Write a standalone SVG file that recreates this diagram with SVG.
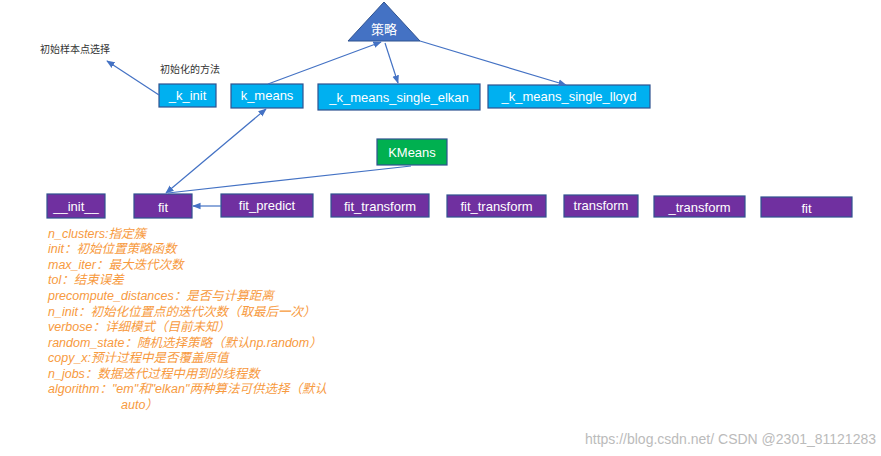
<svg xmlns="http://www.w3.org/2000/svg" width="881" height="456" viewBox="0 0 881 456">
<style>
.b{fill:#00B0F0;stroke:#2F528F;stroke-width:1.2}
.p{fill:#7030A0;stroke:#2F528F;stroke-width:1.2}
.g{fill:#00B050;stroke:#2F528F;stroke-width:1.2}
.t{font-family:"Liberation Sans","Noto Sans CJK SC",sans-serif;font-size:13px;fill:#fff;text-anchor:middle}
.s{font-family:"Liberation Sans","Noto Sans CJK SC",sans-serif;font-size:10px;fill:#333}
.o{font-family:"Liberation Sans","Noto Sans CJK SC",sans-serif;font-size:12.5px;fill:#F79A3E;font-style:italic}
.c line{stroke:#4472C4;stroke-width:1.2}
</style>
<defs><marker id="a" viewBox="0 0 10 10" refX="9" refY="5" markerWidth="7" markerHeight="7" orient="auto-start-reverse"><path d="M0,1L10,5L0,9z" fill="#4472C4"/></marker></defs>
<rect width="881" height="456" fill="#fff"/>
<g id="strategy"><polygon points="384,2 348,41 420,41" fill="#4472C4" stroke="#2F528F"/><text class="t" x="384" y="34" font-size="11">策略</text></g>
<g id="k_init"><rect class="b" x="159" y="84" width="57" height="23"/><text class="t" x="187.5" y="100">_k_init</text></g>
<g id="k_means"><rect class="b" x="231" y="84" width="72" height="24"/><text class="t" x="267" y="100">k_means</text></g>
<g id="elkan"><rect class="b" x="318" y="84" width="162" height="26"/><text class="t" x="399" y="102">_k_means_single_elkan</text></g>
<g id="lloyd"><rect class="b" x="488" y="85" width="162" height="23"/><text class="t" x="569" y="101">_k_means_single_lloyd</text></g>
<g id="KMeans"><rect class="g" x="377" y="139" width="70" height="26"/><text class="t" x="412" y="157">KMeans</text></g>
<g id="init"><rect class="p" x="47" y="194" width="58" height="24"/><text class="t" x="76" y="211">__init__</text></g>
<g id="fit1"><rect class="p" x="134" y="194" width="58" height="24"/><text class="t" x="163" y="212">fit</text></g>
<g id="fit_predict"><rect class="p" x="221" y="194" width="92" height="23"/><text class="t" x="267" y="210">fit_predict</text></g>
<g id="fit_transform1"><rect class="p" x="331" y="194" width="98" height="23"/><text class="t" x="380" y="211">fit_transform</text></g>
<g id="fit_transform2"><rect class="p" x="447" y="195" width="99" height="22"/><text class="t" x="496.5" y="211">fit_transform</text></g>
<g id="transform"><rect class="p" x="564" y="195" width="74" height="22"/><text class="t" x="601" y="210">transform</text></g>
<g id="_transform"><rect class="p" x="654" y="196" width="91" height="21"/><text class="t" x="699.5" y="212">_transform</text></g>
<g id="fit2"><rect class="p" x="761" y="197" width="91" height="20"/><text class="t" x="806.5" y="213">fit</text></g>
<g id="labels">
<text class="s" x="40" y="53">初始样本点选择</text>
<text class="s" x="160" y="73">初始化的方法</text>
</g>
<g class="c">
<line x1="159" y1="95" x2="107" y2="61" marker-end="url(#a)"/>
<line x1="268" y1="84" x2="381" y2="42" marker-end="url(#a)"/>
<line x1="385" y1="43" x2="398" y2="83" marker-end="url(#a)"/>
<line x1="420" y1="41" x2="566" y2="85" marker-end="url(#a)"/>
<line x1="166" y1="193" x2="266" y2="109" marker-start="url(#a)" marker-end="url(#a)"/>
<line x1="411" y1="166" x2="168" y2="193"/>
<line x1="221" y1="206" x2="193" y2="206" marker-end="url(#a)"/>
</g>
<g id="params">
<text class="o" x="48" y="238">n_clusters:指定簇</text>
<text class="o" x="48" y="253">init：初始位置策略函数</text>
<text class="o" x="48" y="269">max_iter：最大迭代次数</text>
<text class="o" x="48" y="284">tol：结束误差</text>
<text class="o" x="48" y="300">precompute_distances：是否与计算距离</text>
<text class="o" x="48" y="316">n_init：初始化位置点的迭代次数（取最后一次）</text>
<text class="o" x="48" y="331">verbose：详细模式（目前未知）</text>
<text class="o" x="48" y="347">random_state：随机选择策略（默认np.random）</text>
<text class="o" x="48" y="362">copy_x:预计过程中是否覆盖原值</text>
<text class="o" x="48" y="378">n_jobs：数据迭代过程中用到的线程数</text>
<text class="o" x="48" y="393">algorithm："em"和"elkan"两种算法可供选择（默认</text>
<text class="o" x="121" y="409">auto）</text>
</g>
<text x="876" y="444" text-anchor="end" font-family="Liberation Sans,Noto Sans CJK SC,sans-serif" font-size="14" fill="#bbb">https://blog.csdn.net/ CSDN @2301_81121283</text>
</svg>
